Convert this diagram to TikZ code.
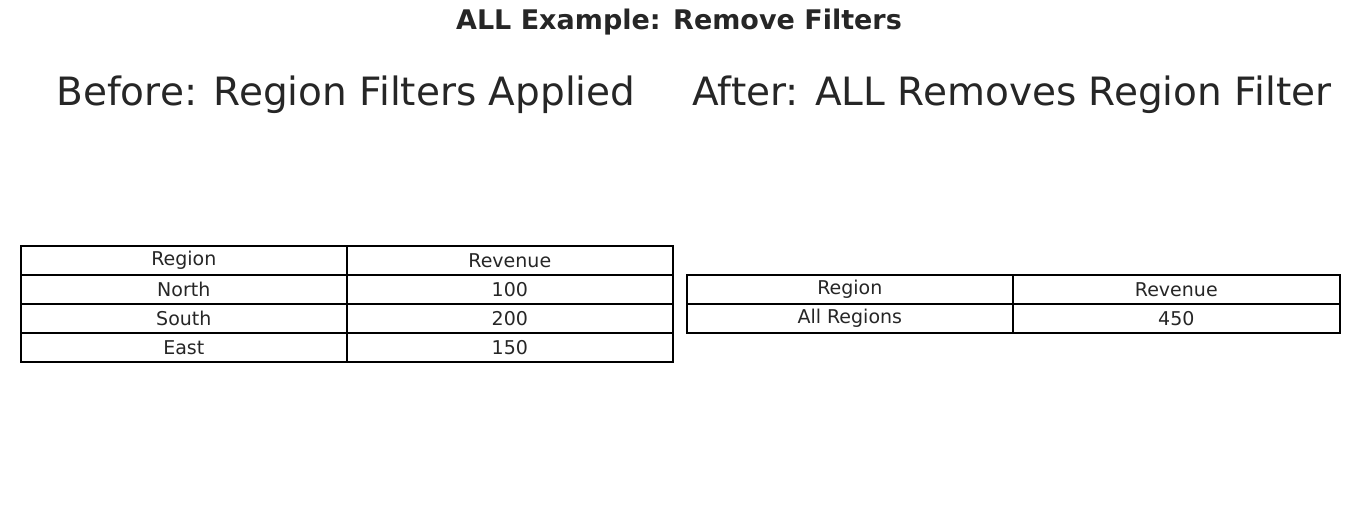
\documentclass[tikz,border=0pt]{standalone}
\usepackage{fontspec}
\setmainfont{DejaVu Sans}
\definecolor{txt}{HTML}{262626}
\begin{document}
\begin{tikzpicture}[x=1pt,y=-1pt,
  cell/.style={draw=black,line width=1.6pt,minimum width=326pt,minimum height=29pt,inner sep=0pt,text=txt,font=\fontsize{19}{19}\selectfont,anchor=north west},
  sub/.style={text=txt,font=\fontsize{39}{39}\selectfont}]
\useasboundingbox (0,0) rectangle (1358,509);
\node[text=txt,font=\fontsize{27}{27}\selectfont\bfseries] (title) at (679,22) {ALL Example: Remove Filters};
\node[sub] (s1) at (346,95) {Before: Region Filters Applied};
\node[sub] (s2) at (1012,95) {After: ALL Removes Region Filter};
% left table
\node[cell] (a1) at (20,245) {Region};
\node[cell] (a2) at (346,245) {Revenue};
\node[cell] (b1) at (20,274) {North};
\node[cell] (b2) at (346,274) {100};
\node[cell] (c1) at (20,303) {South};
\node[cell] (c2) at (346,303) {200};
\node[cell] (d1) at (20,332) {East};
\node[cell] (d2) at (346,332) {150};
% right table
\node[cell] (e1) at (686,274) {Region};
\node[cell,minimum width=327pt] (e2) at (1012,274) {Revenue};
\node[cell] (f1) at (686,303) {All Regions};
\node[cell,minimum width=327pt] (f2) at (1012,303) {450};
\end{tikzpicture}
\end{document}
